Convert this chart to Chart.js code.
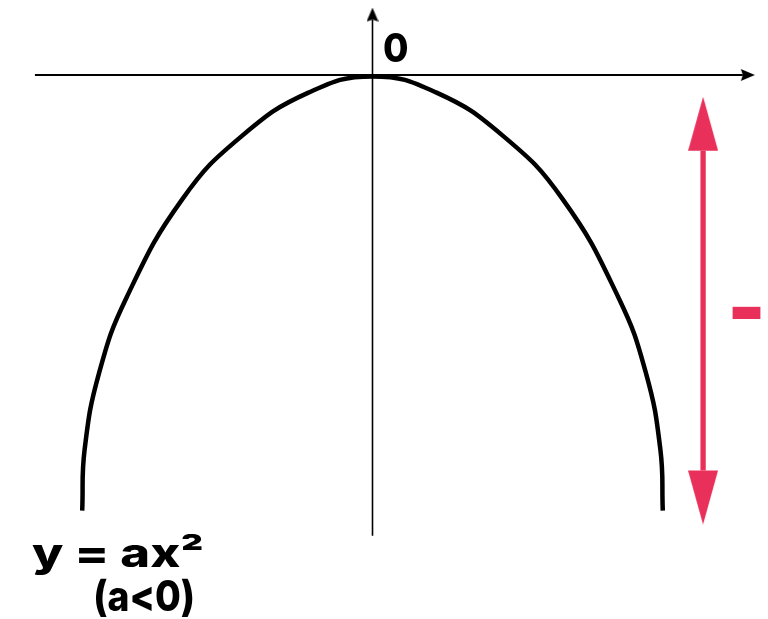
<!DOCTYPE html>
<html>
<head>
<meta charset="utf-8">
<title>y = ax2 (a&lt;0)</title>
<script src="https://cdn.jsdelivr.net/npm/chart.js@4.4.1/dist/chart.umd.min.js"></script>
<style>
  html, body { margin: 0; padding: 0; background: #fff; overflow: hidden; }
  #wrap { position: relative; width: 768px; height: 619px; }
</style>
</head>
<body>
<div id="wrap"><canvas id="parabola"></canvas></div>
<script>
// points (both halves averaged), 1 unit = 29px, vertex at (0, 0)
var curveX = [-10.01, -9.925, -9.425, -8.48, -6.55, -4.49, -2.19, 0,
              2.19, 4.49, 6.55, 8.48, 9.425, 9.925, 10.01];
var curveY = [-15.02, -12.90, -10.26, -7.67, -4.27, -2.09, -0.60, -0.05,
              -0.60, -2.09, -4.27, -7.67, -10.26, -12.90, -15.02];

// axes: where the lines start and where the arrow heads sit
var xAxisRange = [-11.64, 12.77];
var yAxisRange = [-15.89, 1.91];

// the pink "negative" double arrow on the right
var signArrowX = 11.40;
var signArrowY = [-2.61, -13.64];

var labels = ["0", "-", "y = ax²", "(a<0)"];

var pink = "#e8305a";
var labelFont = "'Inter', 'Liberation Sans', sans-serif";

function toPoints(xs, ys) {
  var pts = [];
  for (var i = 0; i < xs.length; i++) {
    pts.push({x: xs[i], y: ys[i]});
  }
  return pts;
}

// arrow head drawn on a small canvas, used as a point style.
// the centre of the canvas is where the shaft ends.
function arrowHead(width, length, notch, color) {
  var inner = length - notch;
  var c = document.createElement("canvas");
  c.width = width;
  c.height = inner * 2;
  var g = c.getContext("2d");
  g.fillStyle = color;
  g.beginPath();
  g.moveTo(width / 2, 0);
  g.lineTo(width, length);
  g.lineTo(width / 2, inner);
  g.lineTo(0, length);
  g.closePath();
  g.fill();
  return c;
}

var blackHead = arrowHead(12, 14, 2, "#000");
var pinkHead = arrowHead(30, 54, 0, pink);

// fit the ink of a text into a box (left, top, right, bottom)
function drawFit(ctx, text, font, color, box) {
  ctx.save();
  ctx.font = font;
  ctx.fillStyle = color;
  ctx.textAlign = "left";
  ctx.textBaseline = "alphabetic";
  var m = ctx.measureText(text);
  var w = m.actualBoundingBoxLeft + m.actualBoundingBoxRight;
  var h = m.actualBoundingBoxAscent + m.actualBoundingBoxDescent;
  ctx.translate(box[0], box[1]);
  ctx.scale((box[2] - box[0]) / w, (box[3] - box[1]) / h);
  ctx.fillText(text, m.actualBoundingBoxLeft, m.actualBoundingBoxAscent);
  ctx.restore();
}

var labelPlugin = {
  id: "labels",
  afterDatasetsDraw: function(chart) {
    var ctx = chart.ctx;
    drawFit(ctx, labels[0], "800 40px " + labelFont, "#000", [384, 33, 408, 62]);
    drawFit(ctx, labels[1], "800 100px " + labelFont, pink, [732, 307, 761, 320]);
    drawFit(ctx, labels[2], "800 42px " + labelFont, "#000", [32, 533, 202, 575]);
    drawFit(ctx, labels[3], "800 40px " + labelFont, "#000", [95, 578, 193, 617]);
  }
};

var pxPerUnit = 29;
var originX = 372.5, originY = 75;

new Chart("parabola", {
  type: "scatter",
  data: {
    datasets: [
      {
        // horizontal axis
        data: [{x: xAxisRange[0], y: 0}, {x: xAxisRange[1], y: 0}],
        showLine: true,
        borderColor: "#000",
        borderWidth: 2,
        pointRadius: [0, 1],
        pointStyle: [false, blackHead],
        pointRotation: [0, 90]
      },
      {
        // vertical axis
        data: [{x: 0, y: yAxisRange[0]}, {x: 0, y: yAxisRange[1]}],
        showLine: true,
        borderColor: "#000",
        borderWidth: 1.6,
        pointRadius: [0, 1],
        pointStyle: [false, blackHead],
        pointRotation: [0, 0]
      },
      {
        // the parabola
        data: toPoints(curveX, curveY),
        showLine: true,
        borderColor: "#000",
        borderWidth: 4.5,
        borderCapStyle: "butt",
        tension: 0.45,
        pointRadius: 0
      },
      {
        data: [{x: signArrowX, y: signArrowY[0]}, {x: signArrowX, y: signArrowY[1]}],
        showLine: true,
        borderColor: pink,
        borderWidth: 5.3,
        pointRadius: 1,
        pointStyle: pinkHead,
        pointRotation: [0, 180]
      }
    ]
  },
  options: {
    responsive: true,
    maintainAspectRatio: false,
    animation: false,
    events: [],
    layout: {padding: 0, autoPadding: false},
    plugins: {
      legend: {display: false},
      tooltip: {enabled: false}
    },
    scales: {
      x: {
        type: "linear",
        display: false,
        min: -originX / pxPerUnit,
        max: (768 - originX) / pxPerUnit
      },
      y: {
        type: "linear",
        display: false,
        min: -(619 - originY) / pxPerUnit,
        max: originY / pxPerUnit
      }
    }
  },
  plugins: [labelPlugin]
});
</script>
</body>
</html>
